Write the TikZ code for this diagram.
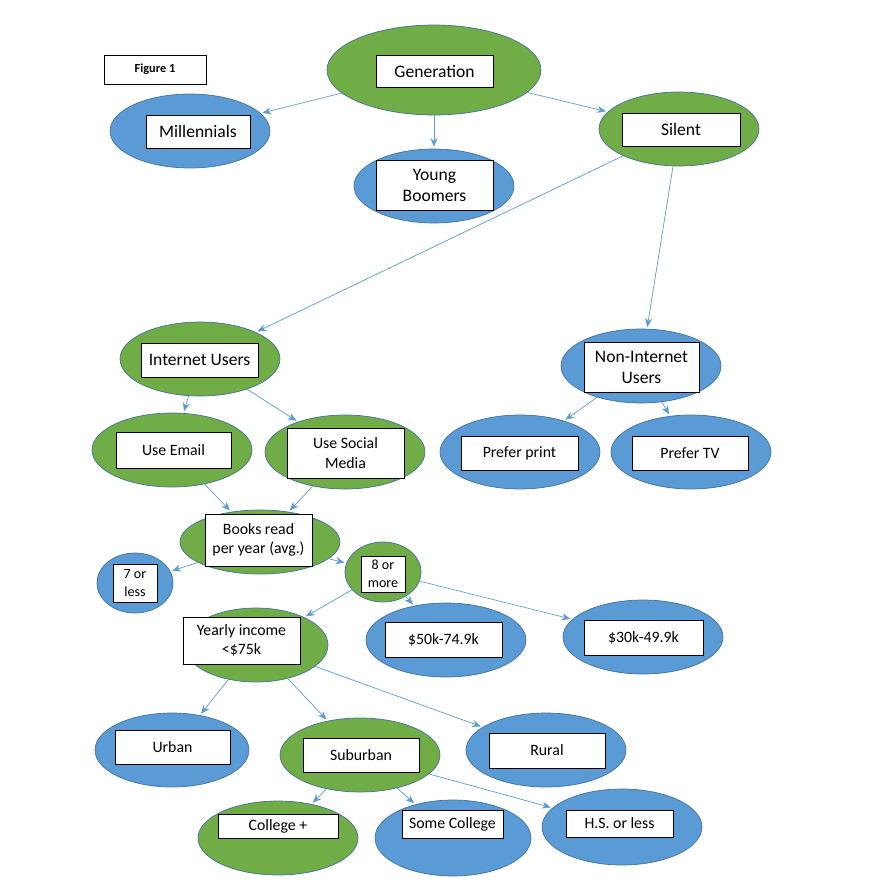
\documentclass[tikz,border=0pt]{standalone}
\usepackage{fontspec}
\setmainfont{Carlito}
\usetikzlibrary{shapes.geometric, arrows.meta}
\definecolor{ovgreen}{HTML}{70AD47}
\definecolor{ovblue}{HTML}{5B9BD5}
\definecolor{ovline}{HTML}{41719C}
\tikzset{
    oval/.style 2 args = {
        ellipse, draw=ovline, thin, inner sep=0pt,
        minimum width=#1*0.04cm, minimum height=#2*0.04cm
    },
    green/.style = {fill=ovgreen},
    blue/.style = {fill=ovblue},
    box/.style 2 args = {
        rectangle, draw=black, thin, fill=white, inner sep=1pt,
        align=center, font=\fontsize{9}{11}\selectfont,
        minimum width=#1*0.02cm, minimum height=#2*0.02cm
    },
    link/.style = {draw=ovblue, thin, -{Stealth[length=5pt,width=4pt]}, shorten >=1pt}
}
\begin{document}
\begin{tikzpicture}[x=0.02cm, y=-0.02cm]
    \useasboundingbox (0,0) rectangle (882,890);
    \clip (0,0) rectangle (882,876);
    % ovals
    \node[oval={107}{45}, green] (gen) at (434,70) {};
    \node[oval={80}{37}, blue] (mil) at (190,131) {};
    \node[oval={80}{37}, blue] (young) at (434,186) {};
    \node[oval={80}{37}, green] (silent) at (679,129) {};
    \node[oval={80}{37}, green] (inet) at (200,359) {};
    \node[oval={80}{37}, blue] (noinet) at (641,366) {};
    \node[oval={80}{37}, green] (email) at (172,450) {};
    \node[oval={80}{37}, green] (social) at (345,452) {};
    \node[oval={80}{37}, blue] (print) at (520,452) {};
    \node[oval={80}{37}, blue] (tv) at (691,452) {};
    \node[oval={80}{32}, green] (books) at (260,542) {};
    \node[oval={38}{30}, blue] (less) at (135,583) {};
    \node[oval={38}{30}, green] (more) at (383,572) {};
    \node[oval={72}{37}, green] (income) at (256,645) {};
    \node[oval={80}{37}, blue] (fifty) at (446,640) {};
    \node[oval={80}{37}, blue] (thirty) at (643,637) {};
    \node[oval={77}{37}, blue] (urban) at (172,750) {};
    \node[oval={80}{37}, green] (suburb) at (360,755) {};
    \node[oval={80}{37}, blue] (rural) at (546,750) {};
    \node[oval={80}{37}, green] (college) at (278,838) {};
    \node[oval={78}{38}, blue] (somecol) at (453,838) {};
    \node[oval={80}{38}, blue] (hs) at (622,827) {};
    % labels
    \node[box={102}{29}, font=\fontsize{7}{9}\selectfont\bfseries] (fig) at (155,69.5) {Figure 1};
    \node[box={117}{32}, font=\fontsize{10}{12}\selectfont] (genb) at (434.5,71) {Generation};
    \node[box={104}{33}, font=\fontsize{10}{12}\selectfont] (milb) at (198,131.5) {Millennials};
    \node[box={117}{50}, font=\fontsize{10}{12}\selectfont] (youngb) at (434.5,185) {Young\\Boomers};
    \node[box={118}{33}, font=\fontsize{10}{12}\selectfont] (silentb) at (681,129.5) {Silent};
    \node[box={117}{34}, font=\fontsize{10}{12}\selectfont] (inetb) at (199.5,360) {Internet Users};
    \node[box={115}{50}, font=\fontsize{10}{12}\selectfont] (noinetb) at (641.5,367) {Non-Internet\\Users};
    \node[box={115}{36}] (emailb) at (173.5,450) {Use Email};
    \node[box={117}{50}] (socialb) at (345.5,453) {Use Social\\Media};
    \node[box={117}{34}] (printb) at (519.5,453) {Prefer print};
    \node[box={116}{34}] (tvb) at (690,453) {Prefer TV};
    \node[box={107}{52}] (booksb) at (258.5,540) {Books read\\per year (avg.)};
    \node[box={44}{38}, font=\fontsize{8}{10}\selectfont] (lessb) at (135,583) {7 or\\less};
    \node[box={44}{36}, font=\fontsize{8}{10}\selectfont] (moreb) at (383,574) {8 or\\more};
    \node[box={117}{47}] (incomeb) at (241.5,640.5) {Yearly income\\<\$75k};
    \node[box={117}{35}] (fiftyb) at (443.5,639.5) {\$50k-74.9k};
    \node[box={119}{35}] (thirtyb) at (643.5,637.5) {\$30k-49.9k};
    \node[box={115}{34}] (urbanb) at (172.5,747) {Urban};
    \node[box={116}{34}] (suburbb) at (361,755) {Suburban};
    \node[box={116}{35}] (ruralb) at (547,750.5) {Rural};
    \node[box={120}{24}, anchor=north] (collegeb) at (278,814) {College +};
    \node[box={101}{28}] (somecolb) at (452.5,824) {Some College};
    \node[box={107}{27}] (hsb) at (619.5,823.5) {H.S. or less};
    % connectors
    \draw[link] (gen) -- (mil);
    \draw[link] (gen) -- (young);
    \draw[link] (gen) -- (silent);
    \draw[link] (silent) -- (inet);
    \draw[link] (silent) -- (noinet);
    \draw[link] (inet) -- (email);
    \draw[link] (inet) -- (social);
    \draw[link] (noinet) -- (print);
    \draw[link] (noinet) -- (tv);
    \draw[link] (email) -- (books);
    \draw[link] (social) -- (books);
    \draw[link] (books) -- (less);
    \draw[link] (books) -- (more);
    \draw[link] (more) -- (income);
    \draw[link] (more) -- (fifty);
    \draw[link] (more) -- (thirty);
    \draw[link] (income) -- (urban);
    \draw[link] (income) -- (suburb);
    \draw[link] (income) -- (rural);
    \draw[link] (suburb) -- (college);
    \draw[link] (suburb) -- (somecol);
    \draw[link] (suburb) -- (hs);
\end{tikzpicture}
\end{document}
